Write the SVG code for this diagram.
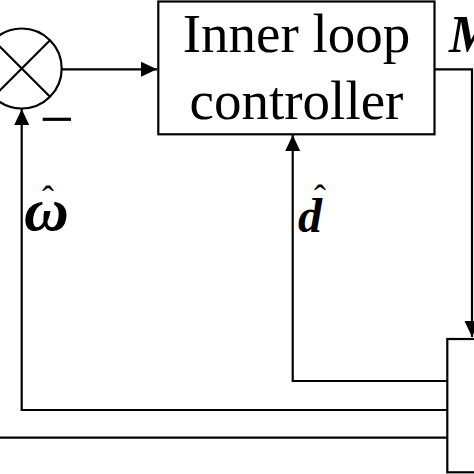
<svg xmlns="http://www.w3.org/2000/svg" width="474" height="474" viewBox="0 0 474 474">
<style>
.ln{fill:none;stroke:#000;stroke-width:2.2}
.box{fill:#fff;stroke:#000;stroke-width:2.2}
.t{font-family:"Liberation Serif","Times New Roman",serif;fill:#000}
.m{font-family:"Liberation Serif","Times New Roman",serif;font-style:italic;font-weight:bold;fill:#000}
.hat{font-style:normal;font-weight:normal}
</style>
<defs>
<marker id="ah" markerWidth="16" markerHeight="16" viewBox="0 0 16 16" refX="16" refY="8" orient="auto" markerUnits="userSpaceOnUse">
<path d="M0,0.5 L16,8 L0,15.5 Z" fill="#000"/>
</marker>
</defs>
<rect width="474" height="474" fill="#fff"/>
<g id="connectors">
<path class="ln" d="M62,69.3 H157" marker-end="url(#ah)"/>
<path class="ln" d="M434.5,69.3 H472 V337" marker-end="url(#ah)"/>
<path class="ln" d="M447.3,381 H292.7 V135" marker-end="url(#ah)"/>
<path class="ln" d="M447.3,410 H21.7 V109" marker-end="url(#ah)"/>
<path class="ln" d="M447.3,437.7 H0"/>
</g>
<g id="sum">
<circle class="ln" cx="21.7" cy="68.5" r="40"/>
<path class="ln" d="M-6.6,40.2 L50,96.8 M50,40.2 L-6.6,96.8"/>
<line x1="42.7" y1="119.3" x2="71" y2="119.3" stroke="#000" stroke-width="3.2"/>
</g>
<g id="inner">
<rect class="box" x="158.3" y="1.5" width="276.2" height="132.8"/>
<text class="t" x="296.5" y="51.7" font-size="55" text-anchor="middle">Inner loop</text>
<text class="t" x="296.5" y="119.3" font-size="55" text-anchor="middle">controller</text>
</g>
<g id="plant">
<rect class="box" x="447.3" y="339" width="40" height="133.3"/>
</g>
<g id="labels">
<text class="m" x="449" y="51.7" font-size="52">M</text>
<text class="m"><tspan x="24" y="230" font-size="62">ω</tspan><tspan class="hat" x="42" y="211" font-size="36">ˆ</tspan></text>
<text class="m"><tspan x="298" y="231.7" font-size="48">d</tspan><tspan class="hat" x="314" y="210" font-size="36">ˆ</tspan></text>
</g>
</svg>
